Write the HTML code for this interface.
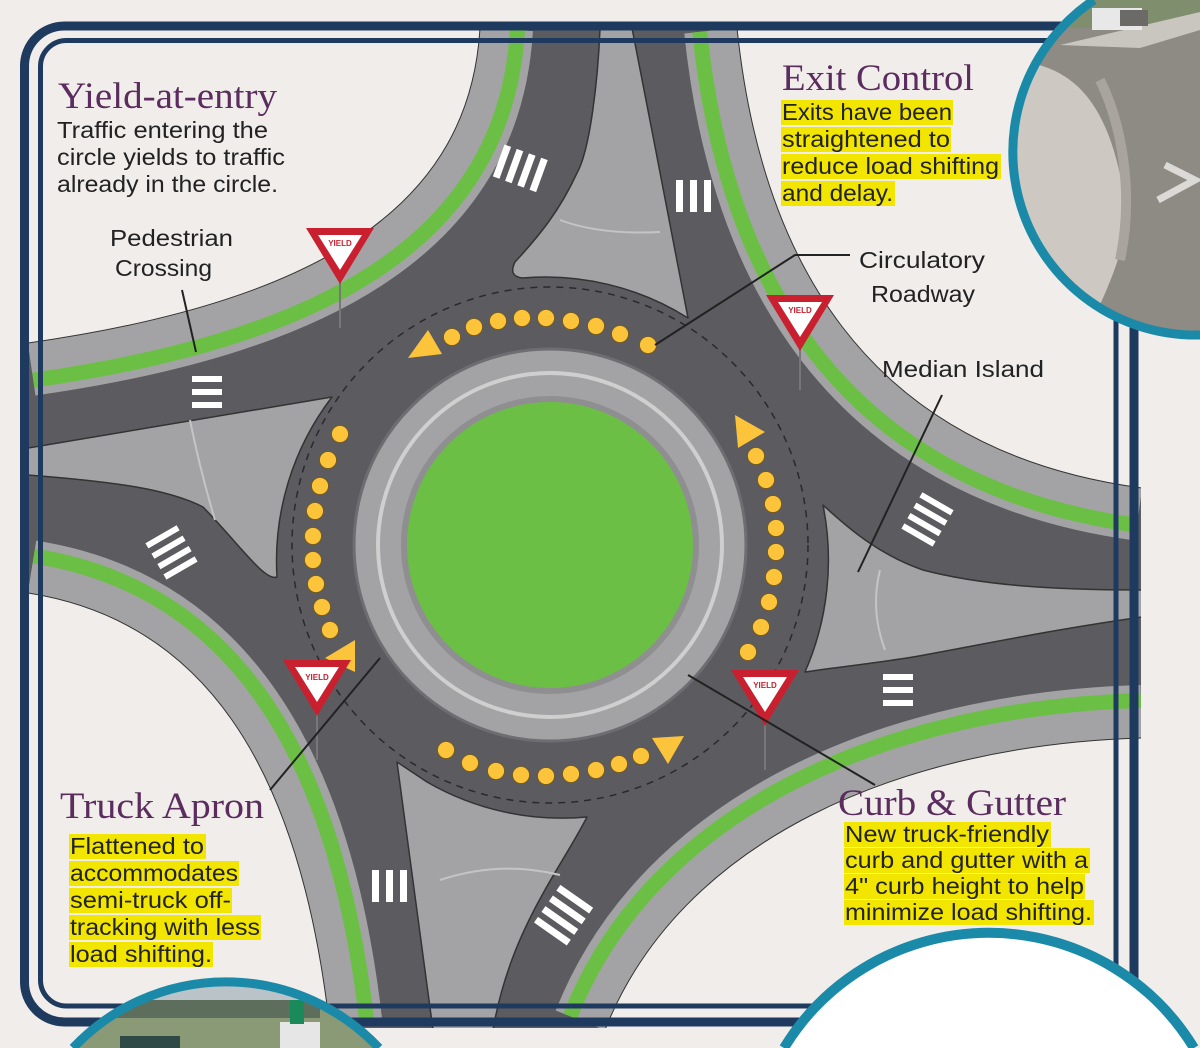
<!DOCTYPE html>
<html><head><meta charset="utf-8"><style>
html,body{margin:0;padding:0;width:1200px;height:1048px;overflow:hidden;background:#f0edeb}
svg{display:block}
.s{font-family:"Liberation Sans",sans-serif}
.t{font-family:"Liberation Serif",serif;fill:#5b2c5e}
</style></head><body>
<svg width="1200" height="1048" viewBox="0 0 1200 1048" xmlns="http://www.w3.org/2000/svg">
<defs>
<clipPath id="c"><rect x="29" y="30" width="1112" height="998"/></clipPath>
<clipPath id="p1"><path d="M1094,0 A183 183 0 0 0 1200,335 L1200,0 Z"/></clipPath>
<clipPath id="p2"><path d="M73,1048 A210 210 0 0 1 379,1048 Z"/></clipPath>
</defs>
<rect width="1200" height="1048" fill="#f0edeb"/>
<g clip-path="url(#c)">
<rect x="29" y="30" width="1112" height="998" fill="#5c5b60"/>
<g fill="none">
<g stroke="#a3a3a5" stroke-width="106">
<path id="nw" d="M480,28 C470,200 330,300 28,343"/>
<path id="ne" d="M737,28 C760,250 860,450 1142,488"/>
<path id="se" d="M1142,738 C900,745 680,840 605,1030"/>
<path id="sw" d="M28,593 C200,620 300,760 330,1030"/>
</g>
<g stroke="#6cbf45" stroke-width="90">
<use href="#nw"/><use href="#ne"/><use href="#se"/><use href="#sw"/>
</g>
<g stroke="#a3a3a5" stroke-width="60">
<use href="#nw"/><use href="#ne"/><use href="#se"/><use href="#sw"/>
</g>
</g>
<g fill="#f0edeb" stroke="#333" stroke-width="1">
<path d="M480,28 C470,200 330,300 28,343 L28,28 Z"/>
<path d="M737,28 C760,250 860,450 1142,488 L1142,28 Z"/>
<path d="M1142,738 C900,745 680,840 605,1030 L1142,1030 Z"/>
<path d="M28,593 C200,620 300,760 330,1030 L28,1030 Z"/>
</g>
<circle cx="550" cy="545" r="258" fill="none" stroke="#2a2a2a" stroke-width="1.5" stroke-dasharray="7 6"/>
<g fill="#a3a3a5" stroke="#333" stroke-width="1.5" stroke-linejoin="round">
<path d="M600,28 C598,80 590,150 577,173 C560,210 540,235 515,262 Q508,276 522,278 A268 268 0 0 1 688,318 C675,250 650,120 632,28 Z"/>
<path d="M28,448 L332,397 A270 270 0 0 0 277,577 C265,582 240,545 203,507 C170,490 120,482 28,475 Z"/>
<path d="M823,505 C850,530 880,555 923,570 C980,585 1050,590 1142,590 L1142,617 C1050,630 980,645 913,657 C870,664 830,668 805,672 A280 280 0 0 0 823,505 Z"/>
<path d="M397,762 L427,782 A270 270 0 0 0 587,817 C560,870 510,930 493,1030 L433,1030 Z"/>
</g>
<g fill="none" stroke="#c4c4c6" stroke-width="2">
<path d="M560,220 Q600,235 660,232"/><path d="M190,420 Q200,470 215,520"/><path d="M880,570 Q870,610 885,650"/><path d="M440,880 Q500,860 560,875"/>
</g>
<circle cx="550" cy="545" r="196" fill="#a3a3a5" stroke="#6e6e72" stroke-width="3"/>
<circle cx="550" cy="545" r="172" fill="none" stroke="#cfcfcf" stroke-width="4"/>
<circle cx="550" cy="545" r="146" fill="#6cbf45" stroke="#8f8f92" stroke-width="6"/>
<g fill="#fff">
<g transform="translate(525,170) rotate(20)"><rect x="-28" y="-17" width="7" height="34"/><rect x="-15" y="-17" width="7" height="34"/><rect x="-2" y="-17" width="7" height="34"/><rect x="11" y="-17" width="7" height="34"/></g>
<g transform="translate(695,196)"><rect x="-19" y="-16" width="7" height="32"/><rect x="-5" y="-16" width="7" height="32"/><rect x="9" y="-16" width="7" height="32"/></g>
<g transform="translate(207,393)"><rect x="-15" y="-17" width="30" height="6"/><rect x="-15" y="-4" width="30" height="6"/><rect x="-15" y="9" width="30" height="6"/></g>
<g transform="translate(173,555) rotate(-30)"><rect x="-18" y="-24" width="36" height="6"/><rect x="-18" y="-12" width="36" height="6"/><rect x="-18" y="0" width="36" height="6"/><rect x="-18" y="12" width="36" height="6"/></g>
<g transform="translate(926,522) rotate(30)"><rect x="-18" y="-24" width="36" height="6"/><rect x="-18" y="-12" width="36" height="6"/><rect x="-18" y="0" width="36" height="6"/><rect x="-18" y="12" width="36" height="6"/></g>
<g transform="translate(898,692)"><rect x="-15" y="-18" width="30" height="6"/><rect x="-15" y="-5" width="30" height="6"/><rect x="-15" y="8" width="30" height="6"/></g>
<g transform="translate(391,886)"><rect x="-19" y="-16" width="7" height="32"/><rect x="-5" y="-16" width="7" height="32"/><rect x="9" y="-16" width="7" height="32"/></g>
<g transform="translate(563,916) rotate(-55)"><rect x="-22" y="-20" width="7" height="40"/><rect x="-9" y="-20" width="7" height="40"/><rect x="4" y="-20" width="7" height="40"/><rect x="17" y="-20" width="7" height="40"/></g>
</g>
<g fill="#fcc43b" stroke="#7a5a10" stroke-width="0.8">
<circle cx="452" cy="337" r="8.5"/><circle cx="474" cy="327" r="8.5"/><circle cx="498" cy="321" r="8.5"/><circle cx="522" cy="318" r="8.5"/><circle cx="546" cy="318" r="8.5"/><circle cx="571" cy="321" r="8.5"/><circle cx="596" cy="326" r="8.5"/><circle cx="620" cy="334" r="8.5"/><circle cx="648" cy="345" r="8.5"/>
<circle cx="340" cy="434" r="8.5"/><circle cx="328" cy="460" r="8.5"/><circle cx="320" cy="486" r="8.5"/><circle cx="315" cy="511" r="8.5"/><circle cx="313" cy="536" r="8.5"/><circle cx="313" cy="560" r="8.5"/><circle cx="316" cy="584" r="8.5"/><circle cx="322" cy="607" r="8.5"/><circle cx="330" cy="630" r="8.5"/>
<circle cx="756" cy="456" r="8.5"/><circle cx="766" cy="480" r="8.5"/><circle cx="773" cy="504" r="8.5"/><circle cx="776" cy="528" r="8.5"/><circle cx="776" cy="552" r="8.5"/><circle cx="774" cy="577" r="8.5"/><circle cx="769" cy="602" r="8.5"/><circle cx="761" cy="627" r="8.5"/><circle cx="748" cy="652" r="8.5"/>
<circle cx="446" cy="750" r="8.5"/><circle cx="470" cy="763" r="8.5"/><circle cx="496" cy="771" r="8.5"/><circle cx="521" cy="775" r="8.5"/><circle cx="546" cy="776" r="8.5"/><circle cx="571" cy="774" r="8.5"/><circle cx="596" cy="770" r="8.5"/><circle cx="619" cy="764" r="8.5"/><circle cx="641" cy="756" r="8.5"/>
</g>
<g fill="#fcc43b">
<path d="M408 358 L428 330 L442 354Z"/><path d="M735 415 L765 432 L738 448Z"/><path d="M355 640 L325 658 L355 672Z"/><path d="M652 738 L684 736 L668 764Z"/>
</g>
</g>
<rect x="24.5" y="26" width="1109.5" height="996" rx="40" fill="none" stroke="#1f3a5f" stroke-width="9"/>
<rect x="40.5" y="40.5" width="1075.5" height="965.5" rx="26" fill="none" stroke="#1f3a5f" stroke-width="5"/>
<g class="s">
<g transform="translate(340,228)"><line x1="0" y1="40" x2="0" y2="100" stroke="#777" stroke-width="2"/><path d="M-34 0 L34 0 L0 56Z" fill="#c8202f"/><path d="M-22 7 L22 7 L0 42Z" fill="#fff"/><text x="0" y="18" font-size="8" font-weight="bold" fill="#c8202f" text-anchor="middle">YIELD</text></g>
<g transform="translate(800,295)"><line x1="0" y1="40" x2="0" y2="95" stroke="#777" stroke-width="2"/><path d="M-34 0 L34 0 L0 56Z" fill="#c8202f"/><path d="M-22 7 L22 7 L0 42Z" fill="#fff"/><text x="0" y="18" font-size="8" font-weight="bold" fill="#c8202f" text-anchor="middle">YIELD</text></g>
<g transform="translate(317,660)"><line x1="0" y1="40" x2="0" y2="100" stroke="#777" stroke-width="2"/><path d="M-34 0 L34 0 L0 56Z" fill="#c8202f"/><path d="M-22 7 L22 7 L0 42Z" fill="#fff"/><text x="0" y="20" font-size="8" font-weight="bold" fill="#c8202f" text-anchor="middle">YIELD</text></g>
<g transform="translate(765,670)"><line x1="0" y1="40" x2="0" y2="100" stroke="#777" stroke-width="2"/><path d="M-34 0 L34 0 L0 56Z" fill="#c8202f"/><path d="M-22 7 L22 7 L0 42Z" fill="#fff"/><text x="0" y="18" font-size="8" font-weight="bold" fill="#c8202f" text-anchor="middle">YIELD</text></g>
</g>
<g clip-path="url(#p1)">
<rect x="1000" y="0" width="200" height="340" fill="#8e8a84"/>
<rect x="1000" y="0" width="200" height="28" fill="#7f8e6c"/>
<path d="M1060,45 L1200,12 L1200,30 L1140,48Z" fill="#c9c6c0"/>
<rect x="1092" y="8" width="50" height="22" fill="#e8e8e8"/><rect x="1120" y="10" width="28" height="16" fill="#6c6a66"/>
<path d="M1000,60 C1080,60 1110,110 1125,200 C1130,250 1105,290 1085,340 L1000,340 Z" fill="#cdc9c2"/>
<path d="M1100,80 C1120,120 1135,190 1120,260" fill="none" stroke="#a9a59e" stroke-width="10"/>
<path d="M1165,165 L1195,180 L1158,200" fill="none" stroke="#dcdad6" stroke-width="7"/>
</g>
<path d="M1094,0 A183 183 0 0 0 1200,335" fill="none" stroke="#1b8aa8" stroke-width="9"/>
<g clip-path="url(#p2)">
<rect x="60" y="975" width="330" height="73" fill="#8b9a76"/>
<rect x="60" y="975" width="330" height="27" fill="#b9c3c8"/>
<rect x="100" y="1000" width="220" height="18" fill="#5e6e5c"/>
<rect x="120" y="1036" width="60" height="12" fill="#2f4a46"/>
<rect x="280" y="1022" width="40" height="26" fill="#e6e6e6"/>
<rect x="290" y="1000" width="14" height="24" fill="#1a8a5a"/>
</g>
<path d="M73,1048 A210 210 0 0 1 379,1048" fill="none" stroke="#1b8aa8" stroke-width="9"/>
<path d="M784,1048 A240 240 0 0 1 1194,1048 Z" fill="#fff"/>
<path d="M784,1048 A240 240 0 0 1 1194,1048" fill="none" stroke="#1b8aa8" stroke-width="10"/>
<g stroke="#222" stroke-width="2" fill="none">
<path d="M850 255 L795 255 L655 345"/><path d="M942 395 L858 572"/><path d="M380 658 L270 790"/><path d="M688 675 L875 785"/><path d="M182 290 L196 352"/>
</g>
<text x="58" y="108" font-size="37" class="t" textLength="219" lengthAdjust="spacingAndGlyphs">Yield-at-entry</text>
<text x="782" y="90" font-size="37" class="t" textLength="192" lengthAdjust="spacingAndGlyphs">Exit Control</text>
<text x="60" y="818" font-size="37" class="t" textLength="204" lengthAdjust="spacingAndGlyphs">Truck Apron</text>
<text x="838" y="815" font-size="37" class="t" textLength="228" lengthAdjust="spacingAndGlyphs">Curb &amp; Gutter</text>
<g fill="#f2e600">
<rect x="781" y="100" width="172" height="25"/><rect x="781" y="127" width="170" height="25"/><rect x="781" y="154" width="220" height="25"/><rect x="781" y="181" width="114" height="25"/>
<rect x="69" y="834" width="137" height="25"/><rect x="69" y="861" width="170" height="25"/><rect x="69" y="888" width="163" height="25"/><rect x="69" y="915" width="192" height="25"/><rect x="69" y="942" width="144" height="25"/>
<rect x="844" y="822" width="207" height="25"/><rect x="844" y="848" width="246" height="25"/><rect x="844" y="874" width="241" height="25"/><rect x="844" y="900" width="250" height="25"/>
</g>
<g class="s" font-size="23" fill="#222">
<text x="57" y="138" textLength="211" lengthAdjust="spacingAndGlyphs">Traffic entering the</text>
<text x="57" y="165" textLength="228" lengthAdjust="spacingAndGlyphs">circle yields to traffic</text>
<text x="57" y="192" textLength="221" lengthAdjust="spacingAndGlyphs">already in the circle.</text>
<text x="110" y="246" textLength="123" lengthAdjust="spacingAndGlyphs">Pedestrian</text>
<text x="115" y="276" textLength="97" lengthAdjust="spacingAndGlyphs">Crossing</text>
<text x="859" y="268" textLength="126" lengthAdjust="spacingAndGlyphs">Circulatory</text>
<text x="871" y="302" textLength="104" lengthAdjust="spacingAndGlyphs">Roadway</text>
<text x="882" y="377" textLength="162" lengthAdjust="spacingAndGlyphs">Median Island</text>
<text x="782" y="120" textLength="170" lengthAdjust="spacingAndGlyphs">Exits have been</text>
<text x="782" y="147" textLength="168" lengthAdjust="spacingAndGlyphs">straightened to</text>
<text x="782" y="174" textLength="217" lengthAdjust="spacingAndGlyphs">reduce load shifting</text>
<text x="782" y="201" textLength="111" lengthAdjust="spacingAndGlyphs">and delay.</text>
<text x="70" y="854" textLength="134" lengthAdjust="spacingAndGlyphs">Flattened to</text>
<text x="70" y="881" textLength="168" lengthAdjust="spacingAndGlyphs">accommodates</text>
<text x="70" y="908" textLength="161" lengthAdjust="spacingAndGlyphs">semi-truck off-</text>
<text x="70" y="935" textLength="190" lengthAdjust="spacingAndGlyphs">tracking with less</text>
<text x="70" y="962" textLength="142" lengthAdjust="spacingAndGlyphs">load shifting.</text>
<text x="845" y="842" textLength="204" lengthAdjust="spacingAndGlyphs">New truck-friendly</text>
<text x="845" y="868" textLength="243" lengthAdjust="spacingAndGlyphs">curb and gutter with a</text>
<text x="845" y="894" textLength="239" lengthAdjust="spacingAndGlyphs">4" curb height to help</text>
<text x="845" y="920" textLength="247" lengthAdjust="spacingAndGlyphs">minimize load shifting.</text>
</g>
</svg>
</body></html>
